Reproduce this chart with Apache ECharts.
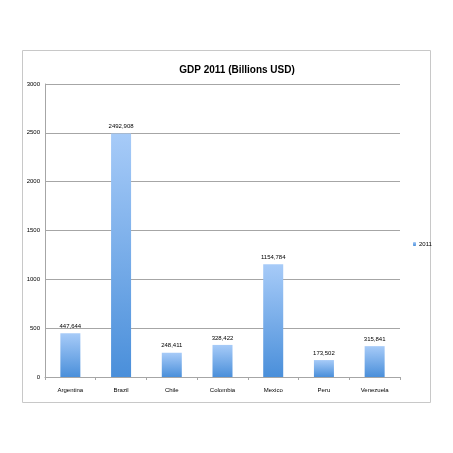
<!DOCTYPE html>
<html lang="en">
<head>
    <meta charset="UTF-8">
    <title>GDP 2011</title>
    <style>
        html, body { margin: 0; padding: 0; background: #fff; }
        #main { width: 453px; height: 453px; }
    </style>
    <script src="https://cdn.jsdelivr.net/npm/echarts@6/dist/echarts.min.js"></script>
</head>
<body>
<div id="main"></div>
<script>
var countries = ['Argentina', 'Brazil', 'Chile', 'Colombia', 'Mexico', 'Peru', 'Venezuela'];
var gdp2011 = [447.644, 2492.908, 248.411, 328.422, 1154.784, 173.502, 315.841];
var seriesName = '2011';

var font = '"Liberation Sans Narrow", "Liberation Sans", sans-serif';

var chart = echarts.init(document.getElementById('main'));
var option = {
    backgroundColor: '#fff',
    animation: false,
    // outer chart frame
    graphic: [{
        type: 'rect',
        shape: { x: 22.5, y: 50.5, width: 408, height: 352 },
        style: { fill: 'none', stroke: '#c8c8c8', lineWidth: 1 },
        z: -1
    }],
    title: {
        text: 'GDP 2011 (Billions USD)',
        left: 232,
        textAlign: 'center',
        top: 60,
        textStyle: { fontFamily: font, fontSize: 10, fontWeight: 'bold', color: '#000' }
    },
    legend: {
        data: [seriesName],
        left: 408,
        top: 236,
        itemWidth: 3,
        itemHeight: 4,
        itemGap: 2,
        textStyle: { fontFamily: font, fontSize: 6, color: '#000', padding: [0, 0, 0, -2] }
    },
    grid: { left: 45, right: 53, top: 84, bottom: 76, containLabel: false },
    xAxis: {
        type: 'category',
        data: countries,
        axisLine: { lineStyle: { color: '#a6a6a6' } },
        axisTick: { show: true, length: 3, lineStyle: { color: '#a6a6a6' } },
        axisLabel: { fontFamily: font, fontSize: 6, color: '#000', margin: 10 }
    },
    yAxis: {
        type: 'value',
        min: 0,
        max: 3000,
        interval: 500,
        axisLine: { show: true, lineStyle: { color: '#a6a6a6' } },
        axisTick: { show: false },
        splitLine: { lineStyle: { color: '#a6a6a6' } },
        axisLabel: {
            fontFamily: font, fontSize: 6, color: '#000', margin: 5,
            formatter: function (v) { return String(v); }
        }
    },
    series: [{
        name: seriesName,
        type: 'bar',
        data: gdp2011,
        barWidth: 20,
        itemStyle: {
            color: new echarts.graphic.LinearGradient(0, 0, 0, 1, [
                { offset: 0, color: '#a7cbf8' },
                { offset: 1, color: '#4a8fda' }
            ])
        },
        label: {
            show: true,
            position: 'top',
            distance: 4,
            fontFamily: font,
            fontSize: 6,
            color: '#000',
            formatter: function (p) {
                return p.value.toFixed(3).replace('.', ',');
            }
        }
    }]
};
chart.setOption(option);
</script>
</body>
</html>
